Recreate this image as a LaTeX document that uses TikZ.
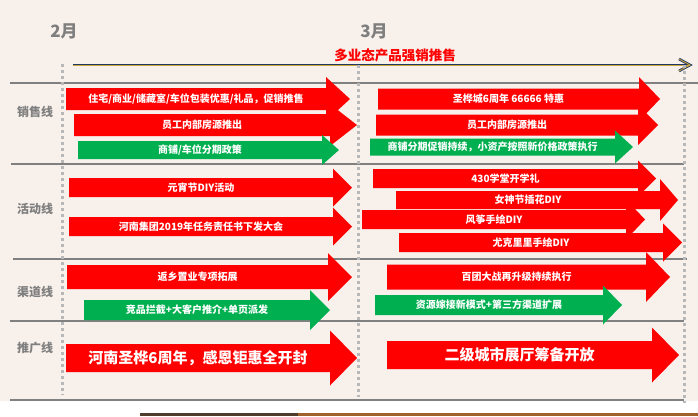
\documentclass[tikz,border=0pt]{standalone}
\usepackage{fontspec}
\setmainfont{Noto Sans CJK SC}
\definecolor{bgcol}{HTML}{F7F0EB}
\definecolor{redcol}{HTML}{FF0000}
\definecolor{greencol}{HTML}{00B050}
\definecolor{rulecol}{HTML}{808080}
\definecolor{dotcol}{HTML}{B8B8B8}
\definecolor{labcol}{HTML}{7F7F7F}
\definecolor{navycol}{HTML}{1F3864}
\definecolor{goldcol}{HTML}{C9A53C}
\definecolor{darkbrown}{HTML}{4E3B2E}
\definecolor{lightbrown}{HTML}{A0602A}
\tikzset{
  rule/.style={draw=rulecol, line width=2pt},
  dotline/.style={draw=dotcol, line width=3pt, dash pattern=on 3pt off 3pt},
  month/.style={font=\bfseries\fontsize{17}{17}\selectfont, text=labcol, inner sep=0pt},
  rowlab/.style={font=\bfseries\fontsize{12}{12}\selectfont, text=labcol, inner sep=0pt},
  redbar/.style={fill=redcol},
  greenbar/.style={fill=greencol},
  bartext/.style={text=white, font=\bfseries\fontsize{10}{10}\selectfont, inner sep=0pt},
}
\newcommand{\bigtxt}{\fontsize{15}{15}\selectfont}
% style, name, left x, head x, tip x, mid y, half body, half head, text
\newcommand{\blockarrow}[9]{%
  \fill[#1] (#3,#6-#7) -- (#4,#6-#7) -- (#4,#6-#8) -- (#5,#6)
    -- (#4,#6+#8) -- (#4,#6+#7) -- (#3,#6+#7) -- cycle;
  \node[bartext] (#2) at ({(#3+#4)/2},#6) {#9};}

\begin{document}
\begin{tikzpicture}[x=1pt, y=-1pt]
  \useasboundingbox (0,0) rectangle (698,416);
  \fill[bgcol] (0,0) rectangle (698,401);
  \fill[white] (0,401) rectangle (698,416);
  \fill[darkbrown] (140,413) rectangle (298,416);
  \fill[lightbrown] (298,413) rectangle (698,416);

  % months and title
  \node[month] (feb) at (64,31) {2月};
  \node[month] (mar) at (374,31) {3月};
  \node[text=redcol, font=\bfseries\fontsize{13.5}{13.5}\selectfont, inner sep=0pt]
    (title) at (395,55) {多业态产品强销推售};

  % timeline
  \coordinate (tl0) at (73,65);
  \coordinate (tl1) at (690,65);
  \draw[navycol, line width=2.6pt] (tl0) -- (tl1);
  \draw[navycol, line width=2.6pt] (tl1) ++(-11,-6) -- (tl1) -- ++(-11,6);
  \draw[goldcol, line width=0.9pt] (tl0) -- (tl1);
  \draw[goldcol, line width=0.9pt] (tl1) ++(-11,-6) -- (tl1) -- ++(-11,6);

  % row rules and month dividers
  \draw[rule] (10,83) -- (698,83);
  \draw[rule] (11,164) -- (684,164);
  \draw[rule] (13,259) -- (687,259);
  \draw[rule] (10,321) -- (684,321);
  \draw[rule] (10,400) -- (684,400);
  \draw[dotline] (62,64) -- (62,395);
  \draw[dotline] (358,65) -- (358,397);
  \draw[dotline] (684,65) -- (684,403);

  % row labels
  \node[rowlab] (sales) at (35,112) {销售线};
  \node[rowlab] (act)   at (35,209) {活动线};
  \node[rowlab] (chan)  at (35,292) {渠道线};
  \node[rowlab] (prom)  at (35,348) {推广线};

  % sales line
  \blockarrow{redbar}{salesA}{66}{326}{350}{99}{11}{22}{住宅/商业/储藏室/车位包装优惠/礼品，促销推售}
  \blockarrow{redbar}{salesB}{74}{330}{357}{125}{11}{21}{员工内部房源推出}
  \blockarrow{greenbar}{salesC}{78}{322}{339}{150}{9}{15}{商铺/车位分期政策}
  \blockarrow{redbar}{salesD}{378}{639}{660}{99}{10.5}{22}{圣桦城6周年 66666 特惠}
  \blockarrow{redbar}{salesE}{376}{638}{658}{125}{10.5}{20}{员工内部房源推出}
  \blockarrow{greenbar}{salesF}{370}{615}{633}{147}{8.5}{16.5}{商铺分期促销持续，小资产按照新价格政策执行}

  % activity line
  \blockarrow{redbar}{actA}{69}{333}{352}{187.5}{9.5}{19}{元宵节DIY活动}
  \blockarrow{redbar}{actB}{69}{333}{352}{226.5}{9.5}{19}{河南集团2019年任务责任书下发大会}
  \blockarrow{redbar}{actC}{373}{638}{656}{178.5}{9.5}{18}{430学堂开学礼}
  \blockarrow{redbar}{actD}{396}{660}{678}{200}{9}{21}{女神节插花DIY}
  \blockarrow{redbar}{actE}{362}{626}{645}{219.5}{9.5}{20}{风筝手绘DIY}
  \blockarrow{redbar}{actF}{399}{663}{682}{242.5}{9.5}{19}{尤克里里手绘DIY}

  % channel line
  \blockarrow{redbar}{chanA}{67}{328}{352}{277}{12}{24}{返乡置业专项拓展}
  \blockarrow{greenbar}{chanB}{84}{310}{330}{310}{10}{20}{竞品拦截+大客户推介+单页派发}
  \blockarrow{redbar}{chanC}{387}{646}{670}{277}{12.5}{25}{百团大战再升级持续执行}
  \blockarrow{greenbar}{chanD}{375}{603}{622}{305}{10}{19.5}{资源嫁接新模式+第三方渠道扩展}

  % promotion line
  \blockarrow{redbar}{promA}{66}{330}{357}{358}{14}{27.5}{\bigtxt 河南圣桦6周年，感恩钜惠全开封}
  \blockarrow{redbar}{promB}{387}{652}{679}{355}{14}{27.5}{\bigtxt 二级城市展厅筹备开放}
\end{tikzpicture}
\end{document}
